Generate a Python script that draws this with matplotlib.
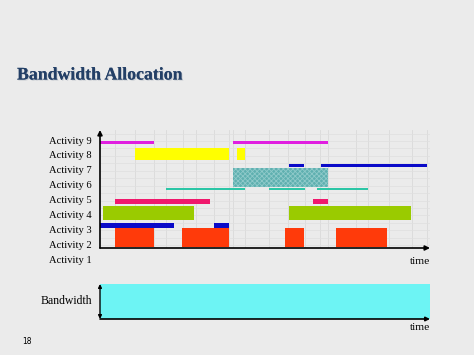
import matplotlib
matplotlib.use("Agg")
import matplotlib.pyplot as plt
import matplotlib.patheffects as pe
from matplotlib.transforms import blended_transform_factory

# ---------------- data ----------------
activities = ["Activity 1", "Activity 2", "Activity 3", "Activity 4", "Activity 5",
              "Activity 6", "Activity 7", "Activity 8", "Activity 9"]
activity_rows = [1, 2, 3, 4, 5, 6, 7, 8, 9]

# (start, end) time intervals per series, time in 0..100
magenta_9 = [(0, 16.4), (40.3, 69.1)]
yellow_8 = [(10.6, 39.1), (41.5, 43.9)]
blue_7 = [(57.3, 61.8), (67.0, 99.1)]
teal_block = [(40.3, 69.1)]
teal_6 = [(20.0, 43.9), (51.2, 62.1), (65.8, 81.2)]
pink_5 = [(4.5, 33.3), (64.5, 69.1)]
green_4 = [(0.9, 28.5), (57.3, 94.2)]
blue_3 = [(0.0, 22.4), (34.5, 39.1)]
red_2 = [(4.5, 16.4), (24.8, 39.1), (56.0, 61.8), (71.5, 87.0)]

bw_time = [0, 100]
bw_value = [1, 1]

grid_x = [4.5, 10.6, 16.4, 20.0, 25.0, 29.0, 34.5, 39.1, 40.3, 43.9, 51.2, 56.9,
          62.1, 66.7, 69.1, 77.6, 81.2, 87.5, 94.5, 99.1]

# ---------------- figure ----------------
BG = "#ebebeb"
W, H = 474, 355
plt.rcParams["hatch.linewidth"] = 0.6
fig = plt.figure(figsize=(W / 100, H / 100), dpi=100, facecolor=BG)

def px_axes(x0, x1, y0, y1):
    return fig.add_axes([x0 / W, 1 - y1 / H, (x1 - x0) / W, (y1 - y0) / H])

serif = ["Liberation Serif", "DejaVu Serif"]

# Title
fig.text(17 / W, 1 - 75 / H, "Bandwidth Allocation", fontsize=12.8, fontweight="bold",
         family=serif, color="#233f66", va="center", ha="left",
         path_effects=[pe.withSimplePatchShadow(offset=(0.8, -0.8), shadow_rgbFace="#a8b0ba", alpha=0.45),
                       pe.Normal()])

# ---------------- main Gantt axes ----------------
ax = px_axes(100, 430, 130, 248)
ax.set_facecolor(BG)
ax.set_xlim(0, 100)
ax.set_ylim(1.81, 9.74)

for gx in grid_x:
    ax.axvline(gx, color="#dadada", lw=0.6, zorder=0)
for gy in [2.0, 2.5, 3.0, 3.5, 4.0, 4.5, 5.0, 5.5, 6.0, 6.5, 7.0, 7.5, 8.0, 8.5, 9.0, 9.5]:
    ax.axhline(gy, color="#dfdfdf", lw=0.5, zorder=0)

def bars(intervals, bottom, top, color, **kw):
    for s, e in intervals:
        ax.bar(s, top - bottom, width=e - s, bottom=bottom, align="edge",
               color=color, linewidth=0, zorder=2, **kw)

bars(red_2, 1.87, 3.15, "#ff3a0a")
bars(blue_3, 3.17, 3.47, "#0a0ac8")
bars(green_4, 3.69, 4.63, "#9acb00")
bars(pink_5, 4.78, 5.08, "#f0186c")
bars(teal_6, 5.71, 5.83, "#2cc6a6")
for s, e in teal_block:
    ax.bar(s, 7.18 - 5.91, width=e - s, bottom=5.91, align="edge",
           facecolor="#5fb0b0", edgecolor="#8fcaca", hatch="xxxxxxx", linewidth=0, zorder=2)
bars(blue_7, 7.25, 7.45, "#0a0ac8")
bars(yellow_8, 7.72, 8.53, "#ffff00")
bars(magenta_9, 8.83, 9.03, "#e01ee0")

for side in ["top", "right", "left", "bottom"]:
    ax.spines[side].set_visible(False)
ax.set_xticks([])
ax.set_yticks([])
# axis arrows
ax.annotate("", xy=(0, 1.0), xytext=(0, 0), xycoords="axes fraction",
            arrowprops=dict(arrowstyle="-|>", color="black", lw=1.2, mutation_scale=7,
                            shrinkA=0, shrinkB=0), annotation_clip=False)
ax.annotate("", xy=(1.0, 0), xytext=(0, 0), xycoords="axes fraction",
            arrowprops=dict(arrowstyle="-|>", color="black", lw=1.2, mutation_scale=7,
                            shrinkA=0, shrinkB=0), annotation_clip=False)

trans = blended_transform_factory(ax.transAxes, ax.transData)
for name, r in zip(activities, activity_rows):
    ax.text(-0.024, r, name, transform=trans, ha="right", va="center",
            fontsize=7.6, family=serif, color="black", clip_on=False)
ax.text(1.0, -0.08, "time", transform=ax.transAxes, ha="right", va="top",
        fontsize=8.2, family=serif, clip_on=False)

# ---------------- bandwidth axes ----------------
bx = px_axes(100, 430, 284, 319)
bx.set_facecolor(BG)
bx.set_xlim(0, 100)
bx.set_ylim(0, 1)
bx.fill_between(bw_time, 0, bw_value, color="#6df4f4", linewidth=0, zorder=1)
for side in ["top", "right", "left", "bottom"]:
    bx.spines[side].set_visible(False)
bx.set_xticks([])
bx.set_yticks([])
bx.annotate("", xy=(0, 1.0), xytext=(0, 0), xycoords="axes fraction",
            arrowprops=dict(arrowstyle="<|-|>", color="black", lw=1.0, mutation_scale=5,
                            shrinkA=0, shrinkB=0), annotation_clip=False)
bx.annotate("", xy=(1.0, 0), xytext=(0, 0), xycoords="axes fraction",
            arrowprops=dict(arrowstyle="-|>", color="black", lw=1.2, mutation_scale=6,
                            shrinkA=0, shrinkB=0), annotation_clip=False)
bx.text(-0.024, 0.5, "Bandwidth", transform=bx.transAxes, ha="right", va="center",
        fontsize=8.5, family=serif, clip_on=False)
bx.text(1.0, -0.12, "time", transform=bx.transAxes, ha="right", va="top",
        fontsize=8.2, family=serif, clip_on=False)

fig.text(22 / W, 1 - 342 / H, "18", fontsize=5.5, family=["DejaVu Sans"], va="center", ha="left")

fig.savefig("out.png", dpi=100, facecolor=BG)
